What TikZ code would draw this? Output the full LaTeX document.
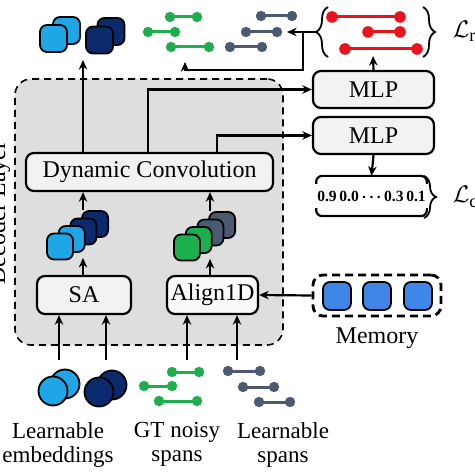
\documentclass[tikz,border=0pt]{standalone}
\usepackage{amsmath,amssymb}
\usepackage{fontspec}
\setmainfont{Liberation Serif}
\usetikzlibrary{positioning, shapes, arrows, arrows.meta, decorations.pathreplacing}
\definecolor{skyb}{HTML}{1FA6E6}
\definecolor{navy}{HTML}{0B2A6B}
\definecolor{grn}{HTML}{1DAF4E}
\definecolor{slate}{HTML}{4B5A72}
\definecolor{redsp}{HTML}{E8141C}
\definecolor{memb}{HTML}{3F86E8}
\newcommand{\spn}[5]{\draw[#4, line width=1.5pt] (#1,#3) -- (#2,#3);
  \fill[#4] (#1,#3) circle (#5) (#2,#3) circle (#5);}

\begin{document}
\begin{tikzpicture}[x=0.5pt, y=-0.5pt, >={Stealth[length=4.8pt,width=4.2pt]}, line width=1.1pt,
  box/.style={draw, rounded corners=4pt, fill=black!5, minimum height=19pt,
              inner sep=1pt, font=\fontsize{12}{14}\selectfont},
  emb/.style={draw, rounded corners=3.5pt, minimum size=13pt, inner sep=0pt, line width=0.9pt},
  ball/.style={draw, circle, minimum size=14.5pt, inner sep=0pt, line width=0.9pt},
  lbl/.style={align=center, inner sep=0pt, anchor=north, font=\fontsize{11.5}{12}\selectfont},
  brc/.style={decorate, decoration={brace, amplitude=6pt}, line width=0.9pt}]
\useasboundingbox (0,0) rectangle (474,474);

% decoder layer
\node[draw, dashed, dash pattern=on 3.5pt off 2.5pt, line width=0.8pt, fill=black!13,
      rounded corners=8pt, minimum width=134pt, minimum height=133pt] (dec) at (149,212) {};
\node[rotate=90, anchor=base, font=\fontsize{12}{14}\selectfont] (dl) at (5,213) {Decoder Layer};

\node[box, minimum width=123.5pt] (dc) at (149.5,172) {Dynamic Convolution};
\node[box, minimum width=47pt] (sa) at (84,295) {SA};
\node[box, minimum width=45.5pt, fill=black!2] (al) at (212.5,295) {Align1D};
\node[box, minimum width=60.5pt, minimum height=18.5pt] (mlp1) at (373.5,89.5) {MLP};
\node[box, minimum width=60.5pt, minimum height=18.5pt] (mlp2) at (373.5,135.5) {MLP};

% stacked queries
\foreach \c [count=\i] in {navy, navy, skyb, skyb}
  \node[emb, fill=\c] (ls\i) at ({60+11.7*(4-\i)}, {246.5-7.5*(4-\i)}) {};
\foreach \c [count=\i] in {slate, slate, grn, grn}
  \node[emb, fill=\c] (rs\i) at ({187+11.7*(4-\i)}, {247.5-7.5*(4-\i)}) {};

% outputs on top
\node[emb, fill=skyb, minimum size=13.5pt] (tp1) at (66.5,30.5) {};
\node[emb, fill=skyb, minimum size=13.5pt] (tp2) at (53.5,38.5) {};
\node[emb, fill=navy, minimum size=13.5pt] (tp3) at (111,31.5) {};
\node[emb, fill=navy, minimum size=13.5pt] (tp4) at (99.5,40) {};
\foreach \a/\b/\y in {170/197/17, 148/175/32, 171/209/47} {\spn{\a}{\b}{\y}{grn}{2.6pt}}
\foreach \a/\b/\y in {261/292/16, 246/277/32, 230/262/47} {\spn{\a}{\b}{\y}{slate}{2.6pt}}
\foreach \a/\b/\y in {332/400/17, 368/400/32, 345/417/49} {\spn{\a}{\b}{\y}{redsp}{2.9pt}}

\draw[brc] (328,57) -- (328,7);
\draw[brc] (423,7) -- (423,57);
\node[anchor=west, font=\fontsize{13}{14}\selectfont] (lreg) at (445,33) {$\mathcal{L}_{\mathrm{reg}}$};

% scores
\node[font=\fontsize{7.8}{9}\selectfont\bfseries, minimum width=48.5pt, minimum height=19pt,
      inner sep=0pt] (sc) at (371.5,196) {0.9\,0.0\,$\boldsymbol{\cdot}\mkern-2mu\boldsymbol{\cdot}\mkern-2mu\boldsymbol{\cdot}$\,0.3\,0.1};
\draw[rounded corners=3pt] ([yshift=-4pt]sc.north west) |- (sc.north east) -- ([yshift=-4pt]sc.north east);
\draw[rounded corners=3pt] ([yshift=4pt]sc.south west) |- (sc.south east) -- ([yshift=4pt]sc.south east);
\draw[brc] (424,176) -- (424,218);
\node[anchor=west, font=\fontsize{13}{14}\selectfont] (lcls) at (445,197) {$\mathcal{L}_{\mathrm{cls}}$};

% memory
\node[draw, dashed, dash pattern=on 4pt off 2.5pt, line width=1.4pt, rounded corners=5pt,
      minimum width=64pt, minimum height=20.5pt] (mem) at (377,295.5) {};
\foreach \x [count=\i] in {337,377,418}
  \node[emb, fill=memb, minimum size=14pt] (m\i) at (\x,296) {};
\node[below=1.5pt of mem, font=\fontsize{12}{14}\selectfont] (meml) {Memory};

% inputs
\node[ball, fill=skyb] (c1) at (65,384) {};
\node[ball, fill=skyb] (c2) at (53,391) {};
\node[ball, fill=navy] (c3) at (112,385) {};
\node[ball, fill=navy] (c4) at (99,392) {};
\foreach \a/\b/\y in {172/199/372, 144/172/386, 159/197/401} {\spn{\a}{\b}{\y}{grn}{2.6pt}}
\foreach \a/\b/\y in {228/260/371, 243/274/387, 259/290/402} {\spn{\a}{\b}{\y}{slate}{2.6pt}}
\node[lbl] (lab1) at (58,421) {Learnable\\embeddings};
\node[lbl] (lab2) at (177,421) {GT noisy\\spans};
\node[lbl] (lab3) at (283,421) {Learnable\\spans};

% arrows
\coordinate (e1) at (83,60);
\coordinate (e2) at (210,0);
\coordinate (d2) at (148,0);
\coordinate (d3) at (217,0);
\draw[->] (dc.north -| e1) -- (e1);
\draw[->] (dc.north -| d2) |- (mlp1.west);
\draw[->] (dc.north -| d3) |- (mlp2.west);
\draw[->] (ls1.north -| e1) -- (dc.south -| e1);
\draw[->] (rs1.north -| e2) -- (dc.south -| e2);
\draw[->, shorten >=2.5pt] (sa.north -| e1) -- (ls3.south -| e1);
\draw[->, shorten >=2.5pt] (al.north -| e2) -- (rs3.south -| e2);
\draw[->] (mem.west) -- (al.east);
\draw[->] (mlp2.south) -- (sc.north);
\coordinate (rb) at (373,56);
\draw[->] (mlp1.north) -- (rb);
\coordinate (bt) at (316,32);
\coordinate (jn) at (303,32);
\coordinate (jd) at (303,70);
\coordinate (gs) at (287,32);
\coordinate (gn) at (185,62);
\draw[->] (bt) -- (gs);
\draw[->] (jn) -- (jd) -| (gn);
\foreach \x in {59,106} {
  \coordinate (bi) at (\x,360);
  \draw[->] (bi) -- (sa.south -| bi);
}
\foreach \x in {187,237} {
  \coordinate (bi) at (\x,360);
  \draw[->] (bi) -- (al.south -| bi);
}
\end{tikzpicture}
\end{document}
